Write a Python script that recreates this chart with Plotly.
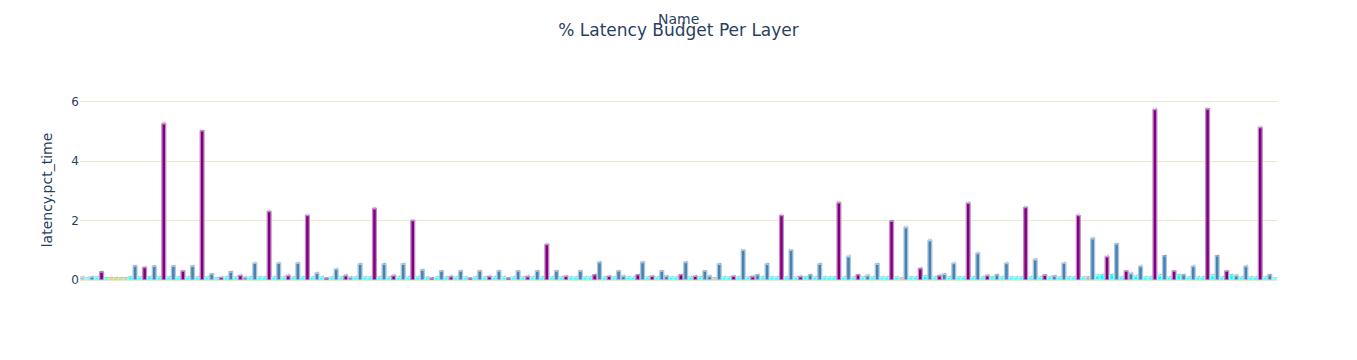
import plotly.graph_objects as go

# layer type codes per layer (p=conv, b=depthwise conv, c=activation, g=pad, o=quantize, y=reshape)
layer_types = (
    "g c b c p c o y y g "
    "c b c p c b c p c b "
    "c p c b c p c b c p "
    "c b c p b c b c c p "
    "c b c p c b c p c b "
    "c p c b c p b c b c "
    "c p c b c p c b c p "
    "c b c p c b c p c b "
    "c p c b c p c b c p "
    "c b c p c b c p c b "
    "c p c c b c c p b c "
    "p c b b c c p b c p "
    "c b b c c p b c p c "
    "b b g b c c p c b c "
    "p b c b c c p c b c "
    "p c b c b c c c p c "
    "b c p c b c b c c p "
    "c g b c c p c b c p "
    "b c b c c p c b c p "
    "c b c b c c c p c b "
    "c p c b c b c c p c "
    "g b c c p c b c p b "
    "c b c c p c b c p c "
    "b c b c c p c b c p "
    "c b c b c c p c b c"
).split()

pct_time = [
    0.08, 0.05, 0.10, 0.08, 0.27, 0.06, 0.06, 0.06, 0.06, 0.06,
    0.10, 0.47, 0.08, 0.42, 0.10, 0.46, 0.08, 5.26, 0.08, 0.46,
    0.08, 0.30, 0.08, 0.46, 0.08, 5.02, 0.08, 0.20, 0.06, 0.08,
    0.08, 0.27, 0.08, 0.15, 0.08, 0.08, 0.56, 0.08, 0.08, 2.30,
    0.08, 0.56, 0.08, 0.14, 0.08, 0.56, 0.08, 2.17, 0.08, 0.22,
    0.08, 0.06, 0.08, 0.36, 0.08, 0.14, 0.08, 0.08, 0.53, 0.08,
    0.08, 2.40, 0.08, 0.53, 0.08, 0.14, 0.08, 0.53, 0.08, 2.00,
    0.08, 0.33, 0.08, 0.06, 0.08, 0.30, 0.08, 0.11, 0.08, 0.30,
    0.08, 0.06, 0.08, 0.30, 0.08, 0.11, 0.08, 0.30, 0.08, 0.06,
    0.08, 0.30, 0.08, 0.11, 0.08, 0.30, 0.08, 1.19, 0.08, 0.30,
    0.08, 0.12, 0.08, 0.08, 0.30, 0.08, 0.08, 0.17, 0.59, 0.08,
    0.12, 0.08, 0.30, 0.12, 0.08, 0.08, 0.17, 0.59, 0.08, 0.12,
    0.08, 0.30, 0.12, 0.08, 0.08, 0.17, 0.59, 0.08, 0.12, 0.08,
    0.30, 0.12, 0.06, 0.53, 0.08, 0.08, 0.12, 0.08, 1.00, 0.08,
    0.11, 0.17, 0.08, 0.53, 0.08, 0.08, 2.17, 0.08, 1.00, 0.08,
    0.11, 0.10, 0.17, 0.08, 0.53, 0.08, 0.08, 0.08, 2.60, 0.08,
    0.78, 0.08, 0.17, 0.08, 0.14, 0.08, 0.53, 0.08, 0.08, 1.98,
    0.08, 0.06, 1.76, 0.08, 0.08, 0.38, 0.12, 1.32, 0.08, 0.14,
    0.19, 0.08, 0.55, 0.08, 0.08, 2.58, 0.08, 0.89, 0.08, 0.14,
    0.10, 0.17, 0.08, 0.55, 0.08, 0.08, 0.08, 2.44, 0.08, 0.68,
    0.08, 0.16, 0.08, 0.13, 0.08, 0.56, 0.08, 0.08, 2.17, 0.08,
    0.10, 1.39, 0.14, 0.17, 0.78, 0.17, 1.21, 0.08, 0.30, 0.21,
    0.12, 0.45, 0.08, 0.08, 5.74, 0.14, 0.81, 0.08, 0.30, 0.17,
    0.17, 0.08, 0.45, 0.08, 0.08, 5.76, 0.14, 0.81, 0.08, 0.30,
    0.17, 0.14, 0.08, 0.45, 0.08, 0.08, 5.13, 0.08, 0.17, 0.04,
]

type_colors = {
    "p": (128, 0, 128),
    "b": (70, 130, 180),
    "c": (0, 255, 255),
    "g": (169, 169, 169),
    "o": (255, 165, 0),
    "y": (154, 205, 50),
}

layer_names = [f"layer_{i}" for i in range(len(pct_time))]


def rgb(c):
    return f"rgb({c[0]},{c[1]},{c[2]})"


def tint(c, f=0.55):
    return f"rgb({int(c[0] + (255 - c[0]) * f)},{int(c[1] + (255 - c[1]) * f)},{int(c[2] + (255 - c[2]) * f)})"


fig = go.Figure(
    go.Bar(
        x=layer_names,
        y=pct_time,
        marker=dict(
            color=[rgb(type_colors[t]) for t in layer_types],
            line=dict(color=[tint(type_colors[t]) for t in layer_types], width=1.3),
        ),
        text=[f"{v:.2f}" for v in pct_time],
        textposition="auto",
        showlegend=False,
    )
)

FONT = "DejaVu Sans"
fig.update_layout(
    width=1357,
    height=360,
    template="plotly_white",
    font=dict(family=FONT, color="#2a3f5f"),
    title=dict(text="% Latency Budget Per Layer", x=0.5, xanchor="center",
               yref="container", y=1 - 30 / 360, yanchor="middle",
               font=dict(size=17, family=FONT, color="#2a3f5f")),
    margin=dict(l=80, r=80, t=100, b=80),
    bargap=0.2,
    plot_bgcolor="white",
    paper_bgcolor="white",
    annotations=[dict(text="Name", xref="paper", yref="paper", x=0.5, y=(280 - 19) / 180,
                      xanchor="center", yanchor="middle", showarrow=False,
                      font=dict(size=14, family=FONT, color="#2a3f5f"))],
)
fig.update_xaxes(showticklabels=False, showgrid=False, zeroline=False)
fig.update_yaxes(title_text="latency.pct_time", title_font=dict(size=14),
                 gridcolor="#E0EECC", zeroline=True, zerolinecolor="#E0EECC",
                 tickvals=[0, 2, 4, 6], tickfont=dict(size=12))

fig.write_html("out.html", config={"displayModeBar": False},
               post_script="document.body.style.margin='0px';")
